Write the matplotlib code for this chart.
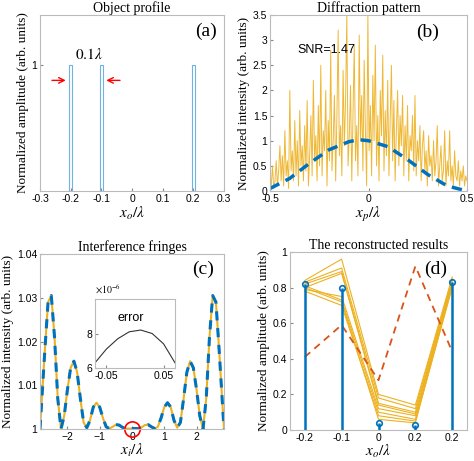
import numpy as np
import matplotlib.pyplot as plt
from matplotlib.patches import Rectangle

plt.rcParams['font.family'] = ['Liberation Sans', 'DejaVu Sans']
plt.rcParams['mathtext.fontset'] = 'stix'

# (a) object profile
slit_pos = [-0.2, -0.1, 0.2]
slit_amp = [1, 1, 1]

# (b) diffraction pattern (noisy) and smooth envelope
noisy = [0.3, 0.1, 0.5, 0.05, 0.2, 0.6, 0.1, 0.4, 0.9, 0.2, 0.7, 0.1, 1.2, 0.3, 0.6, 0.05, 2.0, 0.4, 0.8, 0.2,
         1.4, 0.3, 1.0, 0.1, 1.6, 0.5, 0.9, 0.2, 1.3, 0.4, 1.8, 0.1, 0.7, 1.5, 0.3, 2.2, 0.6, 1.1, 0.2, 1.7,
         0.5, 2.5, 0.3, 1.2, 0.8, 2.0, 0.1, 1.4, 0.6, 2.8, 0.4, 1.0, 1.9, 0.2, 1.5, 3.2, 0.7, 1.3, 0.3, 2.4,
         0.9, 1.8, 3.5, 0.5, 1.1, 2.1, 0.2, 1.6, 2.9, 0.6, 1.3, 0.3, 3.1, 1.0, 1.9, 0.4, 2.6, 1.2, 0.1, 3.5,
         0.8, 1.7, 0.3, 2.3, 1.0, 2.9, 0.5, 1.5, 0.2, 2.0, 1.1, 2.7, 0.4, 1.6, 0.7, 2.2, 0.3, 1.4, 2.5, 0.6,
         1.8, 0.2, 1.2, 2.0, 0.5, 1.5, 0.9, 1.9, 0.3, 1.3, 0.6, 1.7, 0.2, 1.1, 0.8, 1.5, 0.4, 1.9, 0.3, 1.0,
         0.6, 1.3, 0.2, 0.9, 1.2, 0.4, 0.8, 0.1, 1.1, 0.5, 0.7, 0.2, 1.0, 0.3, 0.6, 1.3, 0.1, 0.5, 0.9, 0.2,
         0.4, 1.2, 0.1, 0.6, 0.3, 1.2, 0.2, 0.5, 0.1, 0.8, 0.3, 0.2, 0.6, 0.1, 0.4, 0.2, 0.5, 0.1, 0.3, 0.2]
env_x = [-0.5, -0.4, -0.3, -0.2, -0.1, -0.05, 0.0, 0.1, 0.2, 0.3, 0.4, 0.5]
env_y = [0.05, 0.25, 0.55, 0.82, 0.98, 1.02, 1.0, 0.88, 0.62, 0.33, 0.1, 0.0]

# (c) interference fringes
fr_x = [-2.85, -2.8, -2.7, -2.6, -2.5, -2.4, -2.3, -2.2, -2.1, -2.0, -1.9, -1.8, -1.7, -1.6, -1.5, -1.4,
        -1.3, -1.2, -1.1, -1.0, -0.9, -0.8, -0.7, -0.6, -0.5, -0.4, -0.3, -0.2, -0.1, 0.0,
        0.1, 0.2, 0.3, 0.4, 0.5, 0.6, 0.7, 0.8, 0.9, 1.0, 1.1, 1.2, 1.3, 1.4, 1.5, 1.6, 1.7, 1.8,
        1.9, 2.0, 2.1, 2.2, 2.3, 2.4, 2.5, 2.6, 2.7, 2.8, 2.85]
fr_y = [1.0000, 1.0060, 1.0180, 1.0290, 1.0305, 1.0210, 1.0070, 1.0000, 1.0030, 1.0090, 1.0140, 1.0155,
        1.0130, 1.0070, 1.0015, 1.0003, 1.0020, 1.0050, 1.0060, 1.0050, 1.0025, 1.0005, 1.0001, 1.0005,
        1.0010, 1.0009, 1.0004, 1.0001, 1.0001, 1.0001,
        1.0001, 1.0001, 1.0004, 1.0009, 1.0010, 1.0005, 1.0001, 1.0005, 1.0025, 1.0050, 1.0060, 1.0050,
        1.0020, 1.0003, 1.0015, 1.0070, 1.0130, 1.0155, 1.0140, 1.0090, 1.0030, 1.0000, 1.0070, 1.0210,
        1.0305, 1.0290, 1.0180, 1.0060, 1.0000]
err_x = [-0.07, -0.05, -0.03, -0.01, 0.01, 0.03, 0.05, 0.07]
err_y = [6.3, 7.1, 7.7, 8.1, 8.2, 8.0, 7.4, 6.3]

# (d) reconstructed results
rec_labels = ['-0.2', '-0.1', '0', '0.2', '0.2']
truth = [0.82, 0.80, 0.04, 0.03, 0.83]
initial = [0.41, 0.59, 0.28, 0.92, 0.44]
runs = [
    [0.84, 0.96, 0.20, 0.14, 0.86],
    [0.83, 0.91, 0.18, 0.12, 0.85],
    [0.82, 0.89, 0.15, 0.10, 0.84],
    [0.80, 0.88, 0.14, 0.09, 0.83],
    [0.79, 0.75, 0.12, 0.08, 0.82],
    [0.81, 0.73, 0.10, 0.06, 0.81],
    [0.78, 0.70, 0.08, 0.05, 0.80],
    [0.80, 0.72, 0.06, 0.04, 0.82],
]

orange = '#EDB120'
blue = '#0072BD'
red = '#D95319'
W, H = 474, 461
serif = dict(family='Liberation Serif')

fig = plt.figure(figsize=(4.74, 4.61), dpi=100)

def ax_at(l, t, r, b):
    return fig.add_axes([l / W, 1 - b / H, (r - l) / W, (b - t) / H])

def style(ax):
    for s in ax.spines.values():
        s.set_color('#BBBBBB')
        s.set_linewidth(0.8)
    ax.tick_params(labelsize=7.5, length=2.5, color='#888888', direction='in', pad=2)

# (a)
ax = ax_at(40, 15, 224, 191)
style(ax)
for p, a in zip(slit_pos, slit_amp):
    ax.add_patch(Rectangle((p - 0.005, 0), 0.01, a, fill=False, ec='#6FB3E0', lw=0.8))
ax.set_xlim(-0.3, 0.3)
ax.set_ylim(0, 1.4)
ax.set_yticks([1])
ax.set_xticks(np.arange(-0.3, 0.31, 0.1))
ax.set_xticklabels(['-0.3', '-0.2', '-0.1', '0', '0.1', '0.2', '0.3'])
ax.annotate('', xy=(-0.207, 0.88), xytext=(-0.27, 0.88),
            arrowprops=dict(arrowstyle='->', color='red', lw=1))
ax.annotate('', xy=(-0.093, 0.88), xytext=(-0.03, 0.88),
            arrowprops=dict(arrowstyle='->', color='red', lw=1))
ax.text(-0.14, 1.03, r'$0.1\lambda$', fontsize=11, ha='center', va='bottom')
ax.text(0.24, 1.27, '(a)', fontsize=14, ha='center', va='center', **serif)
ax.set_title('Object profile', fontsize=10, pad=2, **serif)
ax.set_xlabel(r'$x_o/\lambda$', fontsize=11, labelpad=1)
ax.set_ylabel('Normalized amplitude (arb. units)', fontsize=9.5, labelpad=2, **serif)

# (b)
ax = ax_at(270, 15, 467, 191)
style(ax)
nx = np.linspace(-0.5, 0.5, len(noisy))
ax.plot(nx, noisy, color=orange, lw=0.7, alpha=0.9)
ax.plot(env_x, env_y, color=blue, lw=2.5, ls=(0, (3, 2)))
ax.set_xlim(-0.5, 0.5)
ax.set_ylim(0, 3.5)
ax.set_xticks([-0.5, 0, 0.5])
ax.set_xticklabels(['-0.5', '0', '0.5'])
ax.set_yticks(np.arange(0, 3.6, 0.5))
ax.set_yticklabels(['0', '0.5', '1', '1.5', '2', '2.5', '3', '3.5'])
ax.text(-0.36, 2.8, 'SNR=1.47', fontsize=9, va='center')
ax.text(0.3, 3.15, '(b)', fontsize=14, ha='center', va='center', **serif)
ax.set_title('Diffraction pattern', fontsize=10, pad=2, **serif)
ax.set_xlabel(r'$x_p/\lambda$', fontsize=11, labelpad=1)
ax.set_ylabel('Normalized intensity (arb. units)', fontsize=9.5, labelpad=2, **serif)

# (c)
ax = ax_at(40, 254, 224, 429)
style(ax)
ax.plot(fr_x, fr_y, color=orange, lw=1.5)
ax.plot(fr_x, fr_y, color=blue, lw=2.2, ls=(0, (3, 2.5)))
ax.plot([0], [1.0], 'o', ms=11, mfc='none', mec='red', mew=1.2, clip_on=False)
ax.set_xlim(-2.85, 2.85)
ax.set_ylim(1.0, 1.04)
ax.set_xticks([-2, -1, 0, 1, 2])
ax.set_yticks([1.0, 1.01, 1.02, 1.03, 1.04])
ax.set_yticklabels(['1', '1.01', '1.02', '1.03', '1.04'])
ax.text(2.2, 1.0365, '(c)', fontsize=14, ha='center', va='center', **serif)
ax.set_title('Interference fringes', fontsize=10, pad=2, **serif)
ax.set_xlabel(r'$x_i/\lambda$', fontsize=11, labelpad=0)
ax.set_ylabel('Normalized intensity (arb. units)', fontsize=9.5, labelpad=2, **serif)

ins = ax_at(95, 299, 175, 368)
style(ins)
ins.plot(err_x, err_y, color='#333333', lw=0.8)
ins.set_xlim(-0.07, 0.07)
ins.set_ylim(6, 10)
ins.set_xticks([-0.05, 0.05])
ins.set_xticklabels(['-0.05', '0.05'])
ins.set_yticks([6, 8])
ins.text(-0.03, 8.9, 'error', fontsize=9, va='center')
ins.text(-0.07, 10.2, r'$\times10^{-6}$', fontsize=7, va='bottom')

# (d)
ax = ax_at(290, 252, 467, 430)
style(ax)
xs = np.arange(1, len(truth) + 1)
for r in runs:
    ax.plot(xs, r, color=orange, lw=0.8)
ax.plot(xs, initial, color=red, lw=1.3, ls=(0, (4, 3)))
ml, sl, bl = ax.stem(xs, truth, basefmt=' ')
plt.setp(sl, color=blue, lw=1.8)
plt.setp(ml, color=blue, mfc='none', ms=4, mew=1.2)
ax.set_xlim(0.6, 5.4)
ax.set_ylim(0, 1)
ax.set_xticks(xs)
ax.set_xticklabels(rec_labels)
ax.set_yticks(np.arange(0, 1.01, 0.2))
ax.set_yticklabels(['0', '0.2', '0.4', '0.6', '0.8', '1'])
ax.text(4.55, 0.9, '(d)', fontsize=14, ha='center', va='center', **serif)
ax.set_title('The reconstructed results', fontsize=10, pad=2, **serif)
ax.set_xlabel(r'$x_o/\lambda$', fontsize=11, labelpad=0)
ax.set_ylabel('Normalized amplitude (arb. units)', fontsize=9.5, labelpad=2, **serif)

fig.savefig('out.png', dpi=100)
